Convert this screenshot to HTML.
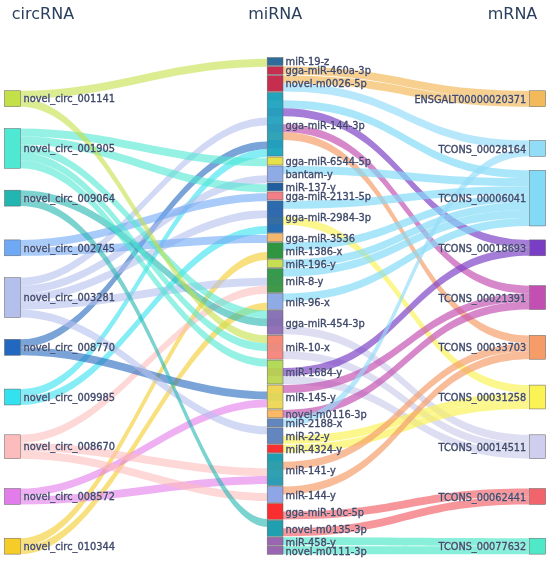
<!DOCTYPE html>
<html lang="en"><head><meta charset="utf-8"><title>circRNA miRNA mRNA sankey</title>
<style>
html,body{margin:0;padding:0;background:#fff;}
body{width:550px;height:561px;overflow:hidden;}
svg{display:block;}
.links path{fill-opacity:0.6;}
.links path.r{fill-opacity:0.68;}
.bands rect{fill-opacity:0.08;}
.nodes rect{stroke:#606060;stroke-width:0.5;}
.labels text{font-family:"DejaVu Sans","Liberation Sans",sans-serif;font-size:9.82px;fill:#202b52;stroke:#202b52;stroke-width:0.3px;text-shadow:0 0 1px rgba(255,255,255,0.7);}
.labels text.m{font-size:9.86px;}
.labels text.r{font-size:9.72px;}
.heads text{font-family:"DejaVu Sans","Liberation Sans",sans-serif;font-size:16px;fill:#2a3f5f;}
</style></head><body>
<svg width="550" height="561" viewBox="0 0 550 561">
<rect width="550" height="561" fill="#ffffff"/>
<g class="links">
<path d="M20.5,90.75C116.71,90.75 166.05,58.85 267.2,58.85L267.2,66.8C166.05,66.8 116.71,98.7 20.5,98.7Z" fill="#c3e048"/>
<path d="M283,66.52C406.3,66.52 406.3,90.75 529.6,90.75L529.6,98.7C406.3,98.7 406.3,74.47 283,74.47Z" fill="#f3ba5c" class="r"/>
<path d="M283,75.5C406.3,75.5 406.3,98.7 529.6,98.7L529.6,106.65C406.3,106.65 406.3,83.45 283,83.45Z" fill="#f3ba5c" class="r"/>
<path d="M283,83.45C406.3,83.45 406.3,140.47 529.6,140.47L529.6,148.42C406.3,148.42 406.3,91.4 283,91.4Z" fill="#93dcf8" class="r"/>
<path d="M283,100.37C406.3,100.37 406.3,170.31 529.6,170.31L529.6,178.26C406.3,178.26 406.3,108.32 283,108.32Z" fill="#82daf7" class="r"/>
<path d="M283,108.32C406.3,108.32 406.3,239.91 529.6,239.91L529.6,247.86C406.3,247.86 406.3,116.27 283,116.27Z" fill="#7a3ec4" class="r"/>
<path d="M20.5,277.7C114.25,277.7 178.39,117.57 267.2,117.57L267.2,125.52C178.39,125.52 114.25,285.65 20.5,285.65Z" fill="#b4bfec"/>
<path d="M283,124.22C406.3,124.22 406.3,285.65 529.6,285.65L529.6,293.6C406.3,293.6 406.3,132.17 283,132.17Z" fill="#c24fb1" class="r"/>
<path d="M283,132.17C406.3,132.17 406.3,335.38 529.6,335.38L529.6,343.32C406.3,343.32 406.3,140.12 283,140.12Z" fill="#f59c68" class="r"/>
<path d="M20.5,339.35C114.25,339.35 166.05,141.42 267.2,141.42L267.2,149.37C166.05,149.37 114.25,347.3 20.5,347.3Z" fill="#2268be"/>
<path d="M20.5,389.07C121.65,389.07 166.05,149.37 267.2,149.37L267.2,157.32C166.05,157.32 121.65,397.02 20.5,397.02Z" fill="#34e1ee"/>
<path d="M20.5,128.55C114.25,128.55 168.52,158.35 267.2,158.35L267.2,166.3C168.52,166.3 114.25,136.5 20.5,136.5Z" fill="#4fe8d2"/>
<path d="M283,166.02C406.3,166.02 406.3,178.26 529.6,178.26L529.6,186.21C406.3,186.21 406.3,173.97 283,173.97Z" fill="#82daf7" class="r"/>
<path d="M20.5,285.65C114.25,285.65 178.39,175.27 267.2,175.27L267.2,183.22C178.39,183.22 114.25,293.6 20.5,293.6Z" fill="#b4bfec"/>
<path d="M20.5,136.5C114.25,136.5 168.52,184.24 267.2,184.24L267.2,192.19C168.52,192.19 114.25,144.44 20.5,144.44Z" fill="#4fe8d2"/>
<path d="M20.5,239.91C114.25,239.91 178.39,193.22 267.2,193.22L267.2,201.17C178.39,201.17 114.25,247.86 20.5,247.86Z" fill="#6fa8f5"/>
<path d="M283,200.89C406.3,200.89 406.3,186.22 529.6,186.22L529.6,194.16C406.3,194.16 406.3,208.84 283,208.84Z" fill="#82daf7" class="r"/>
<path d="M20.5,293.6C114.25,293.6 178.39,210.14 267.2,210.14L267.2,218.09C178.39,218.09 114.25,301.55 20.5,301.55Z" fill="#b4bfec"/>
<path d="M283,216.79C406.3,216.79 406.3,385.09 529.6,385.09L529.6,393.04C406.3,393.04 406.3,224.74 283,224.74Z" fill="#fbf356" class="r"/>
<path d="M20.5,397.02C121.65,397.02 166.05,226.04 267.2,226.04L267.2,233.99C166.05,233.99 121.65,404.97 20.5,404.97Z" fill="#34e1ee"/>
<path d="M20.5,247.86C114.25,247.86 178.39,235.02 267.2,235.02L267.2,242.97C178.39,242.97 114.25,255.81 20.5,255.81Z" fill="#6fa8f5"/>
<path d="M283,242.69C406.3,242.69 406.3,194.16 529.6,194.16L529.6,202.11C406.3,202.11 406.3,250.64 283,250.64Z" fill="#82daf7" class="r"/>
<path d="M20.5,538.23C114.25,538.23 178.39,251.94 267.2,251.94L267.2,259.89C178.39,259.89 114.25,546.18 20.5,546.18Z" fill="#f5cc28"/>
<path d="M283,259.61C406.3,259.61 406.3,202.12 529.6,202.12L529.6,210.06C406.3,210.06 406.3,267.56 283,267.56Z" fill="#82daf7" class="r"/>
<path d="M283,268.59C406.3,268.59 406.3,210.06 529.6,210.06L529.6,218.01C406.3,218.01 406.3,276.54 283,276.54Z" fill="#82daf7" class="r"/>
<path d="M20.5,301.56C114.25,301.56 178.39,277.84 267.2,277.84L267.2,285.79C178.39,285.79 114.25,309.5 20.5,309.5Z" fill="#b4bfec"/>
<path d="M20.5,434.81C114.25,434.81 178.39,285.79 267.2,285.79L267.2,293.74C178.39,293.74 114.25,442.76 20.5,442.76Z" fill="#fdbcbc"/>
<path d="M283,293.46C406.3,293.46 406.3,218.01 529.6,218.01L529.6,225.96C406.3,225.96 406.3,301.41 283,301.41Z" fill="#82daf7" class="r"/>
<path d="M20.5,546.18C114.25,546.18 178.39,302.71 267.2,302.71L267.2,310.66C178.39,310.66 114.25,554.13 20.5,554.13Z" fill="#f5cc28"/>
<path d="M20.5,144.45C114.25,144.45 168.52,310.39 267.2,310.39L267.2,318.34C168.52,318.34 114.25,152.4 20.5,152.4Z" fill="#4fe8d2"/>
<path d="M20.5,190.19C126.58,190.19 178.39,318.34 267.2,318.34L267.2,326.29C178.39,326.29 126.58,198.14 20.5,198.14Z" fill="#23b5b0"/>
<path d="M283,326.29C406.3,326.29 406.3,434.81 529.6,434.81L529.6,442.76C406.3,442.76 406.3,334.24 283,334.24Z" fill="#cfceee" class="r"/>
<path d="M20.5,98.7C116.71,98.7 166.05,335.26 267.2,335.26L267.2,343.21C166.05,343.21 116.71,106.65 20.5,106.65Z" fill="#c3e048"/>
<path d="M20.5,152.4C114.25,152.4 168.52,343.21 267.2,343.21L267.2,351.16C168.52,351.16 114.25,160.34 20.5,160.34Z" fill="#4fe8d2"/>
<path d="M283,351.16C406.3,351.16 406.3,442.76 529.6,442.76L529.6,450.71C406.3,450.71 406.3,359.11 283,359.11Z" fill="#cfceee" class="r"/>
<path d="M20.5,160.35C114.25,160.35 168.52,358.63 267.2,358.63L267.2,366.58C168.52,366.58 114.25,168.3 20.5,168.3Z" fill="#4fe8d2"/>
<path d="M283,368.08C406.3,368.08 406.3,247.86 529.6,247.86L529.6,255.81C406.3,255.81 406.3,376.03 283,376.03Z" fill="#7a3ec4" class="r"/>
<path d="M283,376.03C406.3,376.03 406.3,450.71 529.6,450.71L529.6,458.66C406.3,458.66 406.3,383.98 283,383.98Z" fill="#cfceee" class="r"/>
<path d="M283,385.01C406.3,385.01 406.3,293.6 529.6,293.6L529.6,301.55C406.3,301.55 406.3,392.96 283,392.96Z" fill="#c24fb1" class="r"/>
<path d="M20.5,347.3C114.25,347.3 178.39,391.46 267.2,391.46L267.2,399.41C178.39,399.41 114.25,355.25 20.5,355.25Z" fill="#2268be"/>
<path d="M20.5,488.51C114.25,488.51 178.39,399.41 267.2,399.41L267.2,407.36C178.39,407.36 114.25,496.46 20.5,496.46Z" fill="#e27cea"/>
<path d="M283,409.88C406.3,409.88 406.3,301.55 529.6,301.55L529.6,309.5C406.3,309.5 406.3,417.83 283,417.83Z" fill="#c24fb1" class="r"/>
<path d="M283,418.86C406.3,418.86 406.3,148.42 529.6,148.42L529.6,156.37C406.3,156.37 406.3,426.81 283,426.81Z" fill="#93dcf8" class="r"/>
<path d="M20.5,309.5C114.25,309.5 178.39,426.33 267.2,426.33L267.2,434.28C178.39,434.28 114.25,317.45 20.5,317.45Z" fill="#b4bfec"/>
<path d="M283,435.78C406.3,435.78 406.3,393.04 529.6,393.04L529.6,400.99C406.3,400.99 406.3,443.73 283,443.73Z" fill="#fbf356" class="r"/>
<path d="M283,444.75C406.3,444.75 406.3,400.99 529.6,400.99L529.6,408.94C406.3,408.94 406.3,452.7 283,452.7Z" fill="#fbf356" class="r"/>
<path d="M283,461.68C406.3,461.68 406.3,343.32 529.6,343.32L529.6,351.27C406.3,351.27 406.3,469.63 283,469.63Z" fill="#f59c68" class="r"/>
<path d="M20.5,442.76C114.25,442.76 178.39,468.13 267.2,468.13L267.2,476.08C178.39,476.08 114.25,450.71 20.5,450.71Z" fill="#fdbcbc"/>
<path d="M20.5,496.46C114.25,496.46 178.39,476.08 267.2,476.08L267.2,484.03C178.39,484.03 114.25,504.41 20.5,504.41Z" fill="#e27cea"/>
<path d="M283,486.55C406.3,486.55 406.3,351.27 529.6,351.27L529.6,359.22C406.3,359.22 406.3,494.5 283,494.5Z" fill="#f59c68" class="r"/>
<path d="M20.5,450.71C114.25,450.71 178.39,493 267.2,493L267.2,500.95C178.39,500.95 114.25,458.66 20.5,458.66Z" fill="#fdbcbc"/>
<path d="M283,511.43C406.3,511.43 406.3,488.51 529.6,488.51L529.6,496.46C406.3,496.46 406.3,519.38 283,519.38Z" fill="#f2646c" class="r"/>
<path d="M20.5,198.14C143.85,198.14 193.19,518.9 267.2,518.9L267.2,526.85C193.19,526.85 143.85,206.09 20.5,206.09Z" fill="#23b5b0"/>
<path d="M283,528.35C406.3,528.35 406.3,496.46 529.6,496.46L529.6,504.41C406.3,504.41 406.3,536.3 283,536.3Z" fill="#f2646c" class="r"/>
<path d="M283,537.32C406.3,537.32 406.3,538.23 529.6,538.23L529.6,546.18C406.3,546.18 406.3,545.27 283,545.27Z" fill="#4fe8c9" class="r"/>
<path d="M283,546.3C406.3,546.3 406.3,546.18 529.6,546.18L529.6,554.13C406.3,554.13 406.3,554.25 283,554.25Z" fill="#4fe8c9" class="r"/>
</g>
<g class="nodes">
<rect x="4.5" y="90.75" width="16" height="15.9" fill="#c3e048"/>
<rect x="4.5" y="128.55" width="16" height="39.75" fill="#4fe8d2"/>
<rect x="4.5" y="190.19" width="16" height="15.9" fill="#23b5b0"/>
<rect x="4.5" y="239.91" width="16" height="15.9" fill="#6fa8f5"/>
<rect x="4.5" y="277.7" width="16" height="39.75" fill="#b4bfec"/>
<rect x="4.5" y="339.35" width="16" height="15.9" fill="#2268be"/>
<rect x="4.5" y="389.07" width="16" height="15.9" fill="#34e1ee"/>
<rect x="4.5" y="434.81" width="16" height="23.85" fill="#fdbcbc"/>
<rect x="4.5" y="488.51" width="16" height="15.9" fill="#e27cea"/>
<rect x="4.5" y="538.23" width="16" height="15.9" fill="#f5cc28"/>
<rect x="267.2" y="57.55" width="15.8" height="7.95" fill="#2e6c9c"/>
<rect x="267.2" y="66.52" width="15.8" height="7.95" fill="#c52e4f"/>
<rect x="267.2" y="75.5" width="15.8" height="15.9" fill="#c52e4f"/>
<rect x="267.2" y="92.42" width="15.8" height="63.6" fill="#23a4bd"/>
<rect x="267.2" y="157.05" width="15.8" height="7.95" fill="#e6e14a"/>
<rect x="267.2" y="166.02" width="15.8" height="15.9" fill="#8eabe6"/>
<rect x="267.2" y="182.94" width="15.8" height="7.95" fill="#205f9f"/>
<rect x="267.2" y="191.92" width="15.8" height="7.95" fill="#f27e88"/>
<rect x="267.2" y="200.89" width="15.8" height="31.8" fill="#2562a9"/>
<rect x="267.2" y="233.72" width="15.8" height="7.95" fill="#f5b76b"/>
<rect x="267.2" y="242.69" width="15.8" height="15.9" fill="#309541"/>
<rect x="267.2" y="259.61" width="15.8" height="7.95" fill="#c7dd52"/>
<rect x="267.2" y="268.59" width="15.8" height="23.85" fill="#309541"/>
<rect x="267.2" y="293.46" width="15.8" height="15.9" fill="#8eabe6"/>
<rect x="267.2" y="310.39" width="15.8" height="23.85" fill="#8f6bb4"/>
<rect x="267.2" y="335.26" width="15.8" height="23.85" fill="#fa8479"/>
<rect x="267.2" y="360.13" width="15.8" height="23.85" fill="#bdda50"/>
<rect x="267.2" y="385.01" width="15.8" height="23.85" fill="#f0e152"/>
<rect x="267.2" y="409.88" width="15.8" height="7.95" fill="#fbb965"/>
<rect x="267.2" y="418.86" width="15.8" height="7.95" fill="#6386bf"/>
<rect x="267.2" y="427.83" width="15.8" height="15.9" fill="#6386bf"/>
<rect x="267.2" y="444.75" width="15.8" height="7.95" fill="#f83130"/>
<rect x="267.2" y="453.73" width="15.8" height="31.8" fill="#209fb1"/>
<rect x="267.2" y="486.55" width="15.8" height="15.9" fill="#8ea6e6"/>
<rect x="267.2" y="503.48" width="15.8" height="15.9" fill="#fa2e2e"/>
<rect x="267.2" y="520.4" width="15.8" height="15.9" fill="#209fb1"/>
<rect x="267.2" y="537.32" width="15.8" height="7.95" fill="#9b66b1"/>
<rect x="267.2" y="546.3" width="15.8" height="7.95" fill="#9b66b1"/>
<rect x="529.6" y="90.75" width="16" height="15.9" fill="#f3ba5c"/>
<rect x="529.6" y="140.47" width="16" height="15.9" fill="#93dcf8"/>
<rect x="529.6" y="170.31" width="16" height="55.65" fill="#82daf7"/>
<rect x="529.6" y="239.91" width="16" height="15.9" fill="#7a3ec4"/>
<rect x="529.6" y="285.65" width="16" height="23.85" fill="#c24fb1"/>
<rect x="529.6" y="335.38" width="16" height="23.85" fill="#f59c68"/>
<rect x="529.6" y="385.09" width="16" height="23.85" fill="#fbf356"/>
<rect x="529.6" y="434.81" width="16" height="23.85" fill="#cfceee"/>
<rect x="529.6" y="488.51" width="16" height="15.9" fill="#f2646c"/>
<rect x="529.6" y="538.23" width="16" height="15.9" fill="#4fe8c9"/>
</g>
<g class="bands">
<rect x="267.6" y="100.37" width="15" height="7.95" fill="#82daf7"/>
<rect x="267.6" y="108.32" width="15" height="7.95" fill="#7a3ec4"/>
<rect x="267.6" y="116.27" width="15" height="7.95" fill="#b4bfec"/>
<rect x="267.6" y="124.22" width="15" height="7.95" fill="#c24fb1"/>
<rect x="267.6" y="132.17" width="15" height="7.95" fill="#f59c68"/>
<rect x="267.6" y="140.12" width="15" height="7.95" fill="#2268be"/>
<rect x="267.6" y="148.07" width="15" height="7.65" fill="#34e1ee"/>
<rect x="267.6" y="201.19" width="15" height="7.65" fill="#82daf7"/>
<rect x="267.6" y="208.84" width="15" height="7.95" fill="#b4bfec"/>
<rect x="267.6" y="216.79" width="15" height="7.95" fill="#fbf356"/>
<rect x="267.6" y="224.74" width="15" height="7.65" fill="#34e1ee"/>
<rect x="267.6" y="268.89" width="15" height="7.65" fill="#82daf7"/>
<rect x="267.6" y="276.54" width="15" height="7.95" fill="#b4bfec"/>
<rect x="267.6" y="284.49" width="15" height="7.65" fill="#fdbcbc"/>
<rect x="267.6" y="310.69" width="15" height="7.65" fill="#4fe8d2"/>
<rect x="267.6" y="318.34" width="15" height="7.95" fill="#23b5b0"/>
<rect x="267.6" y="326.29" width="15" height="7.65" fill="#cfceee"/>
<rect x="267.6" y="335.56" width="15" height="7.65" fill="#c3e048"/>
<rect x="267.6" y="343.21" width="15" height="7.95" fill="#4fe8d2"/>
<rect x="267.6" y="351.16" width="15" height="7.65" fill="#cfceee"/>
<rect x="267.6" y="360.43" width="15" height="7.65" fill="#4fe8d2"/>
<rect x="267.6" y="368.08" width="15" height="7.95" fill="#7a3ec4"/>
<rect x="267.6" y="376.03" width="15" height="7.65" fill="#cfceee"/>
<rect x="267.6" y="385.31" width="15" height="7.65" fill="#c24fb1"/>
<rect x="267.6" y="392.96" width="15" height="7.95" fill="#2268be"/>
<rect x="267.6" y="400.91" width="15" height="7.65" fill="#e27cea"/>
<rect x="267.6" y="461.68" width="15" height="7.95" fill="#f59c68"/>
<rect x="267.6" y="469.63" width="15" height="7.95" fill="#fdbcbc"/>
<rect x="267.6" y="477.58" width="15" height="7.65" fill="#e27cea"/>
</g>
<g class="labels">
<text x="23.5" y="102.4">novel_circ_001141</text>
<text x="23.5" y="152.12">novel_circ_001905</text>
<text x="23.5" y="201.84">novel_circ_009064</text>
<text x="23.5" y="251.56">novel_circ_002745</text>
<text x="23.5" y="301.28">novel_circ_003281</text>
<text x="23.5" y="351">novel_circ_008770</text>
<text x="23.5" y="400.72">novel_circ_009985</text>
<text x="23.5" y="450.44">novel_circ_008670</text>
<text x="23.5" y="500.16">novel_circ_008572</text>
<text x="23.5" y="549.88">novel_circ_010344</text>
<text class="m" x="285.6" y="65.22">miR-19-z</text>
<text class="m" x="285.6" y="74.2">gga-miR-460a-3p</text>
<text class="m" x="285.6" y="87.15">novel-m0026-5p</text>
<text class="m" x="285.6" y="128.52">gga-miR-144-3p</text>
<text class="m" x="285.6" y="165.32">gga-miR-6544-5p</text>
<text class="m" x="285.6" y="178.27">bantam-y</text>
<text class="m" x="285.6" y="191.22">miR-137-y</text>
<text class="m" x="285.6" y="200.19">gga-miR-2131-5p</text>
<text class="m" x="285.6" y="221.09">gga-miR-2984-3p</text>
<text class="m" x="285.6" y="241.99">gga-miR-3536</text>
<text class="m" x="285.6" y="254.94">miR-1386-x</text>
<text class="m" x="285.6" y="267.89">miR-196-y</text>
<text class="m" x="285.6" y="284.81">miR-8-y</text>
<text class="m" x="285.6" y="305.71">miR-96-x</text>
<text class="m" x="285.6" y="326.61">gga-miR-454-3p</text>
<text class="m" x="285.6" y="351.48">miR-10-x</text>
<text class="m" x="285.6" y="376.36">miR-1684-y</text>
<text class="m" x="285.6" y="401.23">miR-145-y</text>
<text class="m" x="285.6" y="418.16">novel-m0116-3p</text>
<text class="m" x="285.6" y="427.13">miR-2188-x</text>
<text class="m" x="285.6" y="440.08">miR-22-y</text>
<text class="m" x="285.6" y="453.03">miR-4324-y</text>
<text class="m" x="285.6" y="473.93">miR-141-y</text>
<text class="m" x="285.6" y="498.8">miR-144-y</text>
<text class="m" x="285.6" y="515.73">gga-miR-10c-5p</text>
<text class="m" x="285.6" y="532.65">novel-m0135-3p</text>
<text class="m" x="285.6" y="545.6">miR-458-y</text>
<text class="m" x="285.6" y="554.57">novel-m0111-3p</text>
<text class="r" x="526.2" y="102.8" text-anchor="end">ENSGALT00000020371</text>
<text class="r" x="526.2" y="152.52" text-anchor="end">TCONS_00028164</text>
<text class="r" x="526.2" y="202.24" text-anchor="end">TCONS_00006041</text>
<text class="r" x="526.2" y="251.96" text-anchor="end">TCONS_00018693</text>
<text class="r" x="526.2" y="301.68" text-anchor="end">TCONS_00021391</text>
<text class="r" x="526.2" y="351.4" text-anchor="end">TCONS_00033703</text>
<text class="r" x="526.2" y="401.12" text-anchor="end">TCONS_00031258</text>
<text class="r" x="526.2" y="450.84" text-anchor="end">TCONS_00014511</text>
<text class="r" x="526.2" y="500.56" text-anchor="end">TCONS_00062441</text>
<text class="r" x="526.2" y="550.28" text-anchor="end">TCONS_00077632</text>
</g>
<g class="heads">
<text x="11.8" y="19.2">circRNA</text>
<text x="275.2" y="19.2" text-anchor="middle">miRNA</text>
<text x="537.3" y="19.2" text-anchor="end">mRNA</text>
</g>
</svg>
</body></html>
